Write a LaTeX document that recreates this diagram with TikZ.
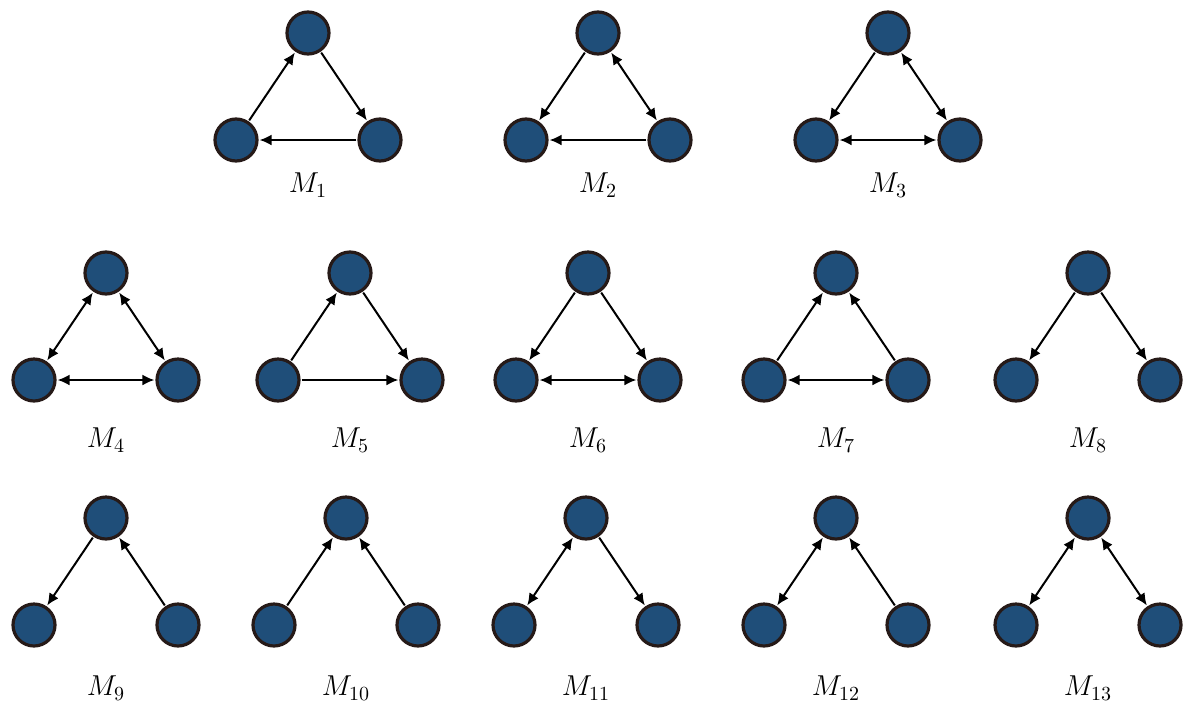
\documentclass[tikz,border=0pt]{standalone}
\usetikzlibrary{arrows.meta}
\definecolor{nodeblue}{RGB}{31,78,121}
\definecolor{nodering}{RGB}{38,26,24}
\tikzset{
  vert/.style={circle,fill=nodeblue,draw=nodering,line width=1.6pt,minimum size=21pt,inner sep=0pt},
  edge/.style={line width=1pt,-{Latex[length=6pt,width=5.5pt]},shorten >=0.5pt,shorten <=0.5pt},
  bi/.style={edge,{Latex[length=6pt,width=5.5pt]}-{Latex[length=6pt,width=5.5pt]}},
  lab/.style={font=\Large}
}
\newcommand{\motif}[5]{%
  % #1 name, #2 x, #3 top y, #4 label gap, #5 index
  \node[vert] (#1t) at (#2,#3) {};
  \node[vert] (#1l) at (#2-72,#3+107) {};
  \node[vert] (#1r) at (#2+72,#3+107) {};
  \node[lab] (#1n) at (#2,#3+#4) {$M_{#5}$};
}
\begin{document}
\begin{tikzpicture}[x=0.5pt,y=-0.5pt]
    \useasboundingbox (0,0) rectangle (1192,707);

    % first row
    \motif{a}{308}{33}{152}{1}
    \motif{b}{598}{33}{152}{2}
    \motif{c}{888}{33}{152}{3}

    % second row
    \motif{d}{106}{273}{167}{4}
    \motif{e}{350}{273}{167}{5}
    \motif{f}{588}{273}{167}{6}
    \motif{g}{836}{273}{167}{7}
    \motif{h}{1088}{273}{167}{8}

    % third row
    \motif{i}{106}{518}{170}{9}
    \motif{j}{346}{518}{170}{10}
    \motif{k}{586}{518}{170}{11}
    \motif{l}{836}{518}{170}{12}
    \motif{m}{1088}{518}{170}{13}

    % edges
    \draw[edge] (al) -- (at); \draw[edge] (at) -- (ar); \draw[edge] (ar) -- (al);
    \draw[edge] (bt) -- (bl); \draw[bi] (bt) -- (br); \draw[edge] (br) -- (bl);
    \draw[edge] (ct) -- (cl); \draw[bi] (ct) -- (cr); \draw[bi] (cl) -- (cr);
    \draw[bi] (dt) -- (dl); \draw[bi] (dt) -- (dr); \draw[bi] (dl) -- (dr);
    \draw[edge] (el) -- (et); \draw[edge] (et) -- (er); \draw[edge] (el) -- (er);
    \draw[edge] (ft) -- (fl); \draw[edge] (ft) -- (fr); \draw[bi] (fl) -- (fr);
    \draw[edge] (gl) -- (gt); \draw[edge] (gr) -- (gt); \draw[bi] (gl) -- (gr);
    \draw[edge] (ht) -- (hl); \draw[edge] (ht) -- (hr);
    \draw[edge] (it) -- (il); \draw[edge] (ir) -- (it);
    \draw[edge] (jl) -- (jt); \draw[edge] (jr) -- (jt);
    \draw[bi] (kt) -- (kl); \draw[edge] (kt) -- (kr);
    \draw[bi] (lt) -- (ll); \draw[edge] (lr) -- (lt);
    \draw[bi] (mt) -- (ml); \draw[bi] (mt) -- (mr);
\end{tikzpicture}
\end{document}
